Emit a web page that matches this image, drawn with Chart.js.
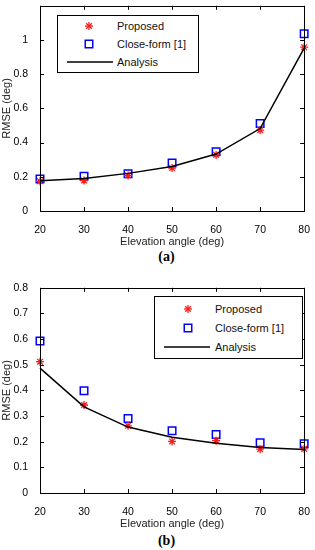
<!DOCTYPE html>
<html>
<head>
<meta charset="utf-8">
<script src="https://cdn.jsdelivr.net/npm/chart.js@4.4.1/dist/chart.umd.min.js"></script>
<style>
  html, body { margin: 0; padding: 0; background: #fff; }
  body { width: 315px; height: 550px; position: relative; overflow: hidden;
         font-family: "Liberation Sans", Arial, sans-serif; }
  .wrap { position: absolute; left: 0; width: 315px; height: 250px; }
  .legend { position: absolute; background: #fff; border: 1px solid #000;
            font-size: 11px; color: #111; box-sizing: border-box; }
  .row { position: absolute; left: 0; height: 16px; line-height: 16px; white-space: nowrap; }
  .row svg { position: absolute; top: 0; }
  .row span { position: absolute; top: 0; }
  .cap { position: absolute; width: 315px; text-align: center;
         font-family: "Liberation Serif", "Times New Roman", serif; font-weight: bold; font-size: 14px; }
</style>
</head>
<body>
<div class="wrap" id="wrapA" style="top:-1px"><canvas id="chartA"></canvas></div>
<div class="wrap" id="wrapB" style="top:281px"><canvas id="chartB"></canvas></div>
<div class="cap" style="top:249px; left:9px">(a)</div>
<div class="cap" style="top:533px; left:9px">(b)</div>

<script>
'use strict';

var angles = [20, 30, 40, 50, 60, 70, 80];

var proposedA = [0.174, 0.178, 0.208, 0.251, 0.328, 0.473, 0.958];
var closeFormA = [0.187, 0.203, 0.218, 0.280, 0.347, 0.512, 1.037];
var analysisA = [0.177, 0.190, 0.220, 0.260, 0.333, 0.482, 0.952];

var proposedB = [0.512, 0.343, 0.262, 0.201, 0.204, 0.171, 0.172];
var closeFormB = [0.593, 0.399, 0.290, 0.243, 0.228, 0.196, 0.192];
var analysisB = [0.487, 0.336, 0.257, 0.217, 0.194, 0.177, 0.170];

var seriesNames = ['Proposed', 'Close-form [1]', 'Analysis'];
var xTitle = 'Elevation angle (deg)';
var yTitle = 'RMSE (deg)';

function toPoints(values) {
  var pts = [];
  for (var i = 0; i < angles.length; i++) {
    pts.push({x: angles[i], y: values[i]});
  }
  return pts;
}

// matlab style box with inward ticks
var boxPlugin = {
  id: 'box',
  afterDatasetsDraw: function(chart) {
    var ctx = chart.ctx;
    var a = chart.chartArea;
    var xs = chart.scales.x;
    var ys = chart.scales.y;
    var len = 4;
    ctx.save();
    ctx.strokeStyle = '#000';
    ctx.lineWidth = 1;
    ctx.beginPath();
    for (var i = 0; i < xs.ticks.length; i++) {
      var px = Math.round(xs.getPixelForValue(xs.ticks[i].value)) + 0.5;
      ctx.moveTo(px, a.bottom); ctx.lineTo(px, a.bottom - len);
      ctx.moveTo(px, a.top); ctx.lineTo(px, a.top + len);
    }
    for (var j = 0; j < ys.ticks.length; j++) {
      var py = Math.round(ys.getPixelForValue(ys.ticks[j].value)) + 0.5;
      ctx.moveTo(a.left, py); ctx.lineTo(a.left + len, py);
      ctx.moveTo(a.right, py); ctx.lineTo(a.right - len, py);
    }
    ctx.stroke();
    ctx.strokeRect(Math.round(a.left) + 0.5, Math.round(a.top) + 0.5,
      Math.round(a.right - a.left), Math.round(a.bottom - a.top));
    ctx.restore();
  }
};

function makeChart(id, prop, close, anal, yMax, yStep, hideTop) {
  var ctx = document.getElementById(id).getContext('2d');
  return new Chart(ctx, {
    type: 'scatter',
    data: {
      datasets: [{
        label: seriesNames[2],
        data: toPoints(anal),
        showLine: true,
        borderColor: '#000',
        borderWidth: 1.5,
        pointRadius: 0,
        tension: 0,
        clip: false,
        order: 1
      }, {
        label: seriesNames[0],
        data: toPoints(prop),
        pointStyle: 'star',
        pointRadius: 4,
        borderColor: '#ff1a1a',
        pointBorderWidth: 1.3,
        clip: false,
        order: 2
      }, {
        label: seriesNames[1],
        data: toPoints(close),
        pointStyle: 'rect',
        pointRadius: 5.3,
        borderColor: '#0000ff',
        backgroundColor: 'rgba(0,0,0,0)',
        pointBorderWidth: 1.5,
        clip: false,
        order: 3
      }]
    },
    options: {
      responsive: false,
      animation: false,
      events: [],
      layout: { padding: { top: 6, right: 8, left: 0, bottom: 0 } },
      plugins: { legend: { display: false }, tooltip: { enabled: false } },
      scales: {
        x: {
          type: 'linear', min: 20, max: 80,
          grid: { display: false }, border: { display: false },
          ticks: { stepSize: 10, padding: 5, color: '#000',
                   font: { family: 'Liberation Sans', size: 10.5 } },
          title: { display: true, text: xTitle, color: '#222', padding: { top: 2, bottom: 0 },
                   font: { family: 'Liberation Sans', size: 11 } },
          afterFit: function(s) { s.height = 38; }
        },
        y: {
          min: 0, max: yMax,
          grid: { display: false }, border: { display: false },
          ticks: { stepSize: yStep, padding: 4, color: '#000',
                   font: { family: 'Liberation Sans', size: 10.5 },
                   callback: function(v) {
                     if (hideTop && Math.abs(v - yMax) < 1e-9) return '';
                     return String(Math.round(v * 10) / 10);
                   } },
          title: { display: true, text: yTitle, color: '#222', padding: { top: 0, bottom: 3 },
                   font: { family: 'Liberation Sans', size: 11 } },
          afterFit: function(s) { s.width = 40; s.paddingTop = 0; s.paddingBottom = 0; }
        }
      }
    },
    plugins: [boxPlugin]
  });
}

function sizeCanvas(id, w, h) {
  var c = document.getElementById(id);
  c.width = w; c.height = h;
  c.style.width = w + 'px'; c.style.height = h + 'px';
}

sizeCanvas('chartA', 315, 250);
sizeCanvas('chartB', 315, 250);
makeChart('chartA', proposedA, closeFormA, analysisA, 1.2, 0.2, true);
makeChart('chartB', proposedB, closeFormB, analysisB, 0.8, 0.1, false);

// legends
function starSvg(cx) {
  var s = '<svg width="20" height="16" style="left:' + (cx - 10) + 'px"><g stroke="#ff1a1a" stroke-width="1.3">';
  s += '<line x1="10" y1="4" x2="10" y2="12"/><line x1="6" y1="8" x2="14" y2="8"/>';
  s += '<line x1="7.2" y1="5.2" x2="12.8" y2="10.8"/><line x1="12.8" y1="5.2" x2="7.2" y2="10.8"/></g></svg>';
  return s;
}
function squareSvg(cx) {
  return '<svg width="20" height="16" style="left:' + (cx - 10) + 'px"><rect x="6.25" y="4.25" width="7.5" height="7.5" fill="none" stroke="#0000ff" stroke-width="1.5"/></svg>';
}
function lineSvg(x1, x2) {
  return '<svg width="' + (x2 - x1) + '" height="16" style="left:' + x1 + 'px"><line x1="0" y1="8" x2="' + (x2 - x1) + '" y2="8" stroke="#000" stroke-width="1.5"/></svg>';
}

function makeLegend(left, top, w, h, rows, symX, lineX1, lineX2, textX) {
  var el = document.createElement('div');
  el.className = 'legend';
  el.style.left = left + 'px'; el.style.top = top + 'px';
  el.style.width = w + 'px'; el.style.height = h + 'px';
  var syms = [starSvg(symX), squareSvg(symX), lineSvg(lineX1, lineX2)];
  for (var i = 0; i < 3; i++) {
    var r = document.createElement('div');
    r.className = 'row';
    r.style.top = (rows[i] - 8) + 'px';
    r.style.width = w + 'px';
    r.innerHTML = syms[i] + '<span style="left:' + textX + 'px">' + seriesNames[i] + '</span>';
    el.appendChild(r);
  }
  document.body.appendChild(el);
}

makeLegend(57, 15, 142, 58, [10, 28, 46], 31, 9, 55, 59);
makeLegend(154, 296, 149, 63, [12, 31, 50], 33, 9, 55, 60);
</script>
</body>
</html>
